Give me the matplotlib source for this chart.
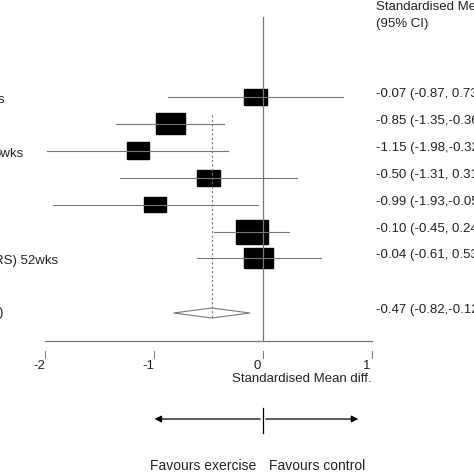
import matplotlib.pyplot as plt
from matplotlib.patches import Rectangle, Polygon

# study estimates (standardised mean difference, 95% CI)
smd = [-0.07, -0.85, -1.15, -0.50, -0.99, -0.10, -0.04]
lo = [-0.87, -1.35, -1.98, -1.31, -1.93, -0.45, -0.61]
hi = [0.73, -0.36, -0.32, 0.31, -0.05, 0.24, 0.53]
weight_w = [0.21, 0.27, 0.20, 0.21, 0.20, 0.30, 0.26]  # box widths in SMD units
weight_h = [16, 21, 17, 16, 15, 24, 20]
ci_text = ["-0.07 (-0.87, 0.73)", "-0.85 (-1.35,-0.36)", "-1.15 (-1.98,-0.32)",
           "-0.50 (-1.31, 0.31)", "-0.99 (-1.93,-0.05)", "-0.10 (-0.45, 0.24)",
           "-0.04 (-0.61, 0.53)"]
left_labels = ["s", "", "6wks", "", "", "", "RS) 52wks"]
pooled, pooled_lo, pooled_hi = -0.47, -0.82, -0.12
pooled_text = "-0.47 (-0.82,-0.12)"
ticks = [-2, -1, 0, 1]

plt.rcParams['font.family'] = ['Liberation Sans', 'DejaVu Sans']
fig = plt.figure(figsize=(4.74, 4.74), dpi=100)
ax = fig.add_axes([0, 0, 1, 1])
ax.set_xlim(-2 - 45 / 109, -2 + 429 / 109)
ax.set_ylim(474, 0)
ax.axis('off')

tc = '#222222'
lc = '#777777'
fs = 9.5
row_y = [97 + 26.9 * i for i in range(len(smd))]
pool_y = 313
xr = -2 + 331 / 109  # right text column

ax.plot([0, 0], [17, 341], color=lc, lw=0.9)
ax.plot([pooled, pooled], [115, 318], color=lc, lw=0.8, ls=(0, (2, 2)))
ax.plot([-2, 1], [341, 341], color=lc, lw=0.9)

for y, m, l, h, w, hh, t, lab in zip(row_y, smd, lo, hi, weight_w, weight_h, ci_text, left_labels):
    ax.plot([l, h], [y, y], color=lc, lw=0.8)
    ax.add_patch(Rectangle((m - w / 2, y - hh / 2), w, hh, facecolor='black', edgecolor='black'))
    ax.text(xr, y - 3, t, fontsize=fs, color=tc, va='center')
    if lab:
        ax.text(-2 - 45 / 109 + (4 if lab == 's' else 24 if lab == '6wks' else 58) / 109,
                y + 3, lab, fontsize=fs, color=tc, va='center', ha='right')

ax.add_patch(Polygon([(pooled_lo, pool_y), (pooled, pool_y - 5), (pooled_hi, pool_y), (pooled, pool_y + 5)],
                     facecolor='white', edgecolor=lc, lw=0.8))
ax.text(xr, pool_y - 3, pooled_text, fontsize=fs, color=tc, va='center')
ax.text(-2 - 45 / 109 + 3 / 109, pool_y + 0, ")", fontsize=fs, color=tc, va='center', ha='right')

ax.text(xr, 7, "Standardised Mean diff.", fontsize=fs, color=tc, va='center')
ax.text(xr, 24, "(95% CI)", fontsize=fs, color=tc, va='center')

for t in ticks:
    ax.plot([t, t], [351, 358], color=lc, lw=0.7)
    ax.text(t - 0.05, 366, str(t), fontsize=fs, color=tc, ha='center', va='center')
ax.text(1.0, 379, "Standardised Mean diff.", fontsize=fs, color=tc, ha='right', va='center')

ax.annotate("", xy=(-1.02, 419), xytext=(0, 419),
            arrowprops=dict(arrowstyle='-|>', color='black', lw=0.9, mutation_scale=10))
ax.annotate("", xy=(0.9, 419), xytext=(0, 419),
            arrowprops=dict(arrowstyle='-|>', color='black', lw=0.9, mutation_scale=10))
ax.plot([0, 0], [408, 433], color='black', lw=0.9)
ax.text(-0.55, 466, "Favours exercise", fontsize=fs + 0.5, color=tc, ha='center', va='center')
ax.text(0.5, 466, "Favours control", fontsize=fs + 0.5, color=tc, ha='center', va='center')

fig.savefig("out.png", dpi=100)
